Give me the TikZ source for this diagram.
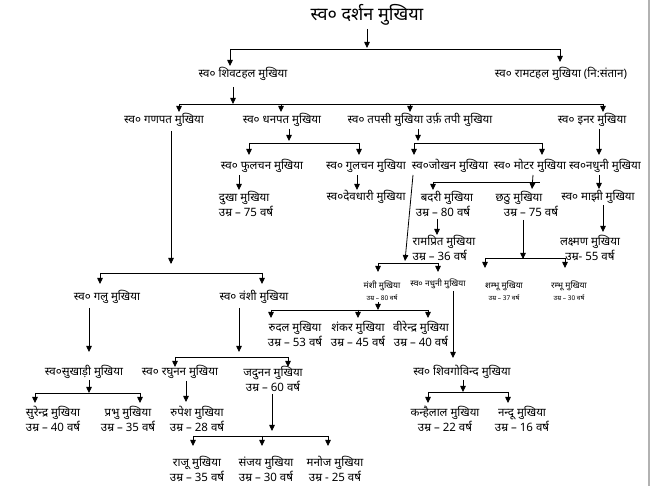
\documentclass[tikz,border=0pt]{standalone}
\usepackage{fontspec}
\setmainfont[Script=Devanagari]{Noto Sans}
\usetikzlibrary{arrows.meta}
\begin{document}
\begin{tikzpicture}[x=1pt,y=-1pt,
  t/.style={inner sep=0pt,font=\fontsize{11.5}{14.5}\selectfont,align=center},
  ts/.style={inner sep=0pt,font=\fontsize{8.5}{12}\selectfont,align=center},
  arr/.style={-{Triangle[length=6pt,width=5.5pt]},line width=0.8pt},
  ln/.style={line width=0.8pt}]
\useasboundingbox (0,0) rectangle (654,486);
\fill[white] (0,0) rectangle (654,486);
\draw[gray!60,line width=2pt] (649,0) -- (649,486);
% nodes
\node[t,font=\fontsize{18}{20}\selectfont] (root) at (367,15) {स्व० दर्शन मुखिया};
\node[t] (shiv) at (243,74) {स्व०  शिवटहल मुखिया};
\node[t] (ram) at (561,74) {स्व० रामटहल मुखिया (नि:संतान)};
\node[t] (gan) at (164,120) {स्व० गणपत मुखिया};
\node[t] (dhan) at (282,120) {स्व० धनपत मुखिया};
\node[t] (tap) at (420,120) {स्व०  तपसी मुखिया उर्फ़ तपी मुखिया};
\node[t] (inar) at (592,120) {स्व०  इनर मुखिया};
\node[t] (ful) at (262,166) {स्व० फुलचन मुखिया};
\node[t] (gul) at (366,166) {स्व० गुलचन मुखिया};
\node[t] (jok) at (450,166) {स्व०जोखन मुखिया};
\node[t] (mot) at (530,166) {स्व० मोटर मुखिया};
\node[t] (nad1) at (605,166) {स्व०नधुनी मुखिया};
\node[t,align=left] (dukh) at (246,204) {दुखा मुखिया\\उम्र – 75 वर्ष};
\node[t] (dev) at (366,197) {स्व०देवधारी मुखिया};
\node[t] (bad) at (443,204) {\hspace*{8pt}बदरी मुखिया\\उम्र – 80 वर्ष};
\node[t] (chh) at (524,204) {छठु मुखिया\hspace*{10pt}\\\hspace*{14pt}उम्र – 75 वर्ष};
\node[t] (majh) at (598,197) {स्व० माझी मुखिया};
\node[t,align=left] (rpr) at (444,248) {रामप्रित मुखिया\\उम्र – 36 वर्ष};
\node[t] (lak) at (590,248) {लक्ष्मण मुखिया\\उम्र- 55 वर्ष};
\node[ts] (man) at (382,291) {मंशी मुखिया\\{\fontsize{6.5}{9}\selectfont उम्र – 80 वर्ष}};
\node[ts,anchor=north] (nad2) at (438,279) {स्व० नधुनी मुखिया};
\node[ts] (sham) at (504,291) {शम्भू मुखिया\\{\fontsize{6.5}{9}\selectfont उम्र – 37 वर्ष}};
\node[ts] (ramb) at (569,291) {रम्भू मुखिया\\{\fontsize{6.5}{9}\selectfont उम्र – 30 वर्ष}};
\node[t] (gal) at (107,297) {स्व० गलु मुखिया};
\node[t] (van) at (254,297) {स्व० वंशी मुखिया};
\node[t] (rud) at (295,334) {रुदल मुखिया\\उम्र – 53 वर्ष};
\node[t] (shan) at (358,334) {शंकर मुखिया\\उम्र – 45 वर्ष};
\node[t] (vir) at (421,334) {वीरेन्द्र मुखिया\\उम्र – 40 वर्ष};
\node[t] (sukh) at (84,372) {स्व०सुखाड़ी मुखिया};
\node[t] (rag) at (180,372) {स्व० रघुनन मुखिया};
\node[t] (jad) at (273,379) {जदुनन मुखिया\\उम्र – 60 वर्ष};
\node[t] (sgov) at (462,372) {स्व० शिवगोविन्द मुखिया};
\node[t] (sur) at (53,419) {सुरेन्द्र मुखिया\\उम्र – 40 वर्ष};
\node[t] (pra) at (128,419) {प्रभु मुखिया\\उम्र – 35 वर्ष};
\node[t] (rup) at (197,419) {रुपेश मुखिया\\उम्र – 28 वर्ष};
\node[t] (kan) at (445,419) {कन्हैलाल मुखिया\\उम्र – 22 वर्ष};
\node[t] (nan) at (522,419) {नन्दू मुखिया\\उम्र – 16 वर्ष};
\node[t] (raj) at (197,469) {राजू मुखिया\\उम्र – 35 वर्ष};
\node[t] (san) at (266,469) {संजय मुखिया\\उम्र – 30 वर्ष};
\node[t] (mano) at (335,469) {मनोज मुखिया\\उम्र  - 25 वर्ष};
% connectors
\draw[arr] (367,29) -- (367,48);
\draw[ln] (230,49) -- (560,49);
\draw[arr] (230,49) -- (230,66);
\draw[arr] (560,49) -- (560,62);
\draw[arr] (233,87) -- (233,104);
\draw[ln] (179,104) -- (603,104);
\foreach \x in {179,281,410,603} \draw[arr] (\x,104) -- (\x,112);
\draw[ln] (171,131) -- (171,263);
\draw[arr] (171,255) -- (171,264);
\draw[arr] (289,129) -- (289,141);
\draw[ln] (249,143) -- (359,143);
\foreach \x in {249,359} \draw[arr] (\x,143) -- (\x,155);
\draw[arr] (418,129) -- (418,141);
\draw[ln] (414,143) -- (542,143);
\foreach \x in {414,542} \draw[arr] (\x,143) -- (\x,155);
\draw[arr] (599,129) -- (599,155);
\draw[arr] (239,175) -- (239,190);
\draw[arr] (357,175) -- (357,190);
\draw[arr] (413,175) -- (405,261);
\draw[arr] (533,175) -- (532,189);
\draw[ln] (433,182) -- (540,182);
\draw[arr] (433,182) -- (433,190);
\draw[arr] (599,175) -- (599,189);
\draw[arr] (437,219) -- (437,235);
\draw[ln] (523,220) -- (523,258);
\draw[arr] (523,250) -- (523,259);
\draw[ln] (485,258) -- (565,258);
\foreach \x in {485,565} \draw[arr] (\x,258) -- (\x,268);
\draw[arr] (603,205) -- (603,232);
\draw[ln] (378,263) -- (438,263);
\foreach \x in {378,438} \draw[arr] (\x,263) -- (\x,272);
\draw[ln] (100,273) -- (262,273);
\foreach \x in {100,262} \draw[arr] (\x,273) -- (\x,284);
\draw[arr] (378,302) -- (378,310);
\draw[ln] (271,310) -- (428,310);
\foreach \x in {271,358,428} \draw[arr] (\x,310) -- (\x,318);
\draw[arr] (453,291) -- (453,358);
\draw[arr] (89,308) -- (89,352);
\draw[arr] (239,308) -- (239,352);
\draw[ln] (175,357) -- (288,357);
\foreach \x in {175,288} \draw[arr] (\x,357) -- (\x,367);
\draw[arr] (89,380) -- (89,393);
\draw[ln] (35,393) -- (140,393);
\foreach \x in {35,140} \draw[arr] (\x,393) -- (\x,403);
\draw[arr] (186,381) -- (186,402);
\draw[arr] (272,394) -- (272,431);
\draw[ln] (193,436) -- (328,436);
\foreach \x in {193,262,328} \draw[arr] (\x,436) -- (\x,446);
\draw[arr] (463,380) -- (463,392);
\draw[ln] (428,392) -- (508,392);
\foreach \x in {428,508} \draw[arr] (\x,392) -- (\x,403);
\end{tikzpicture}
\end{document}
